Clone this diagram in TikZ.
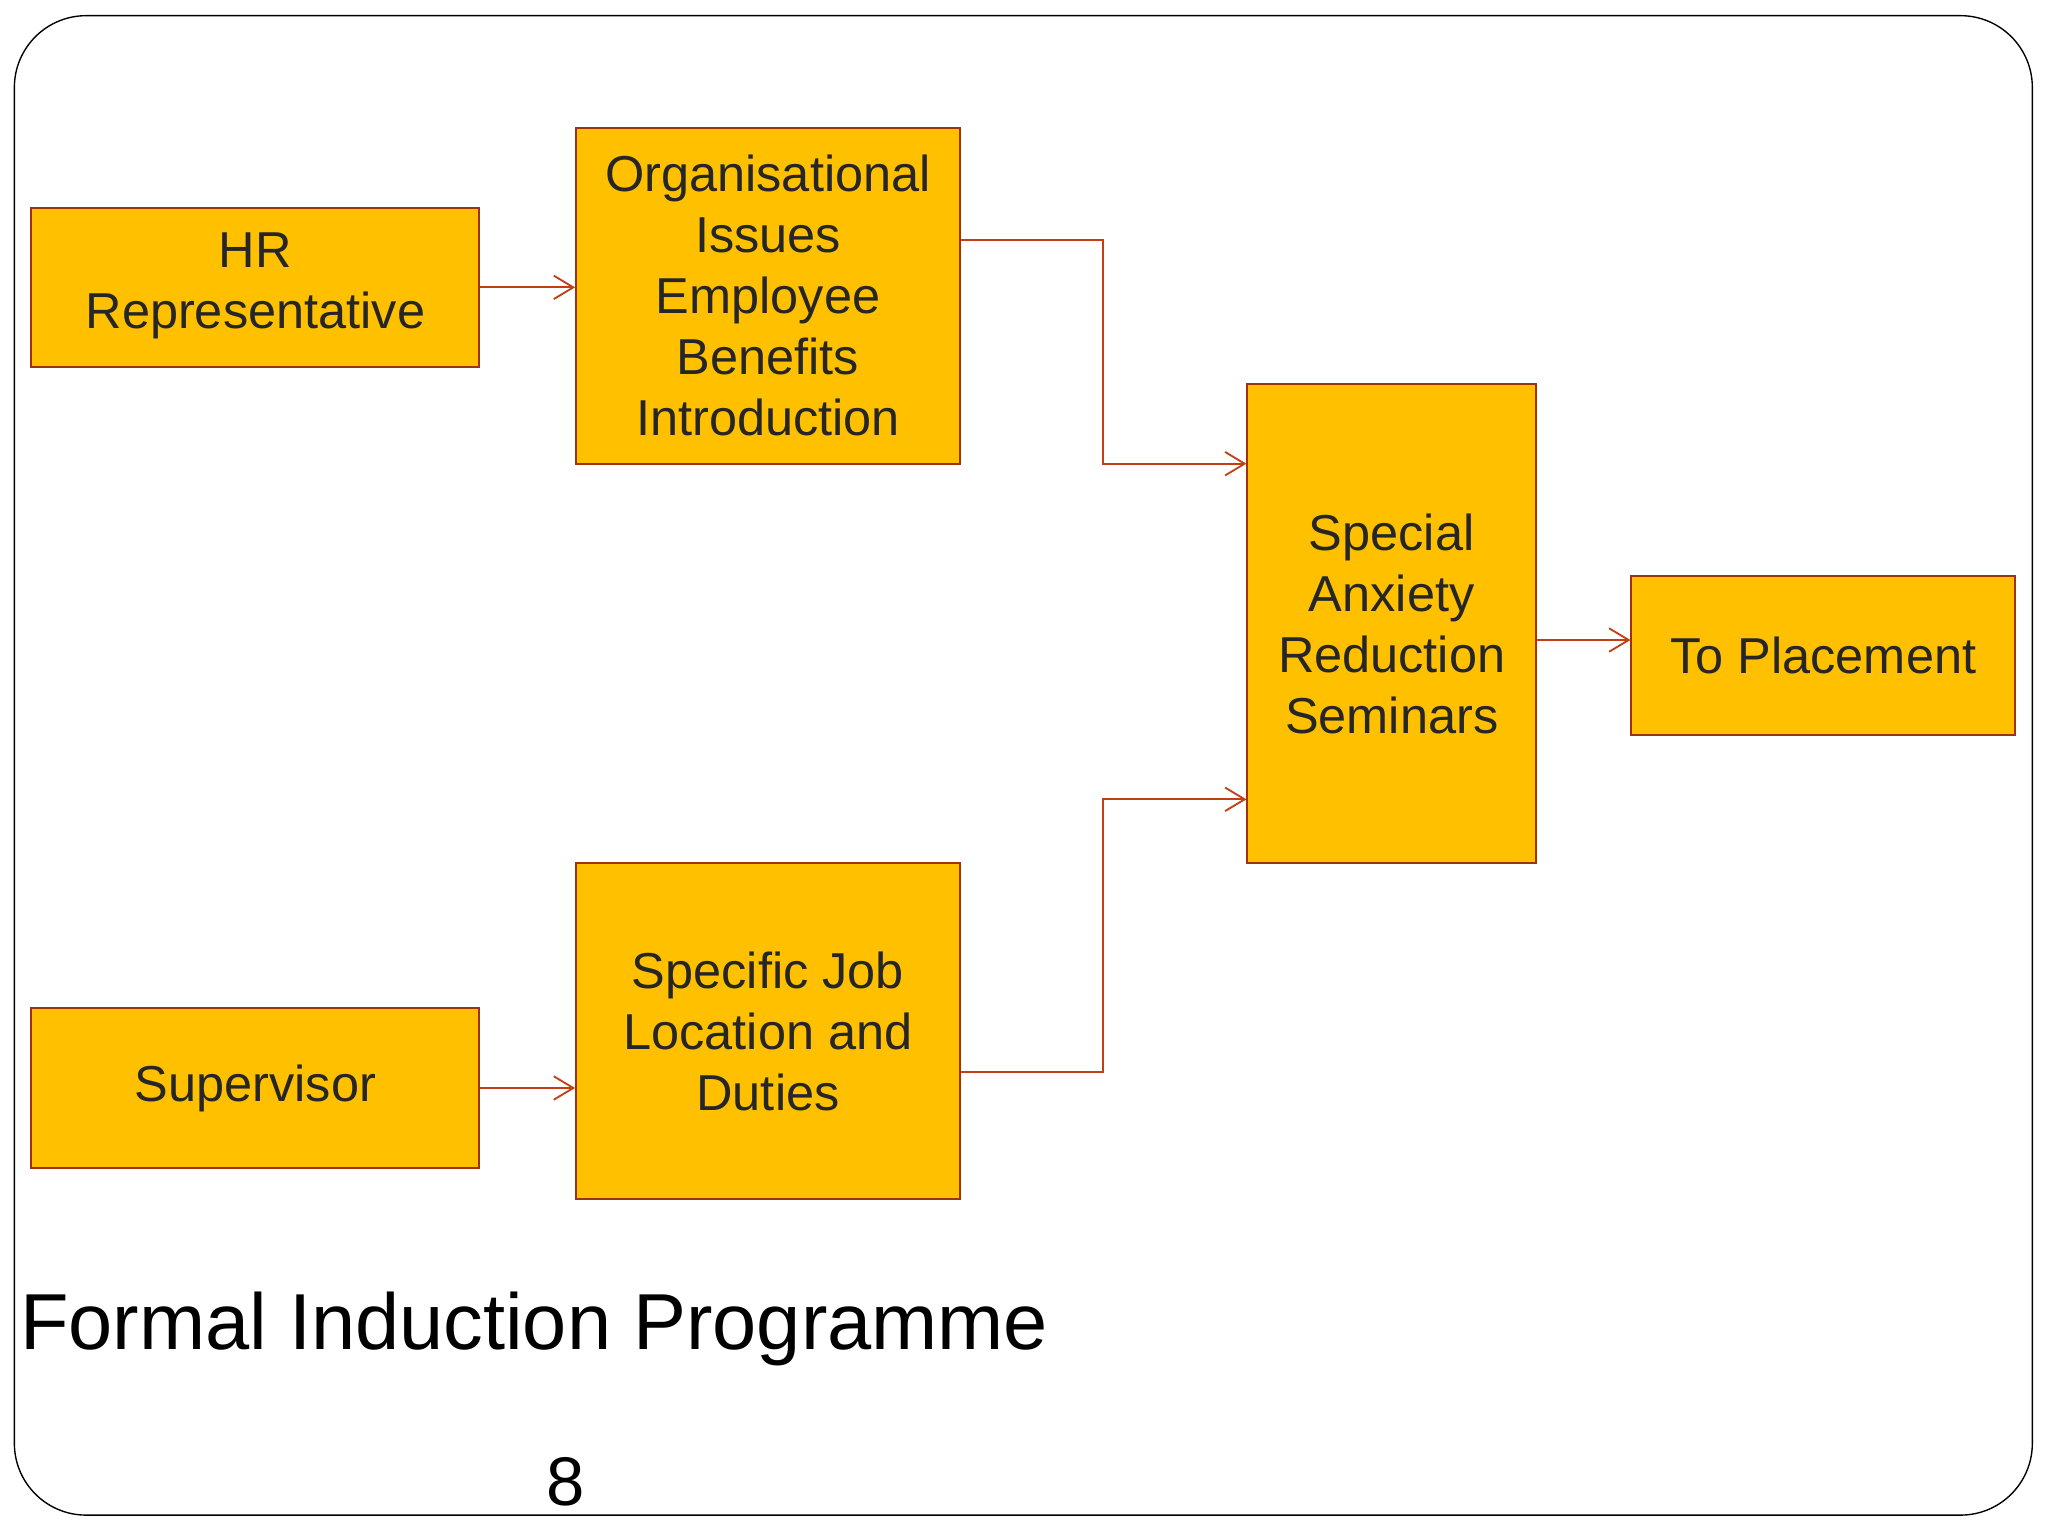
\documentclass[tikz,border=0pt]{standalone}
\usepackage{fontspec}
\setmainfont{Liberation Sans}
\usepackage{xcolor}
\usepackage{tikz}
\usetikzlibrary{calc,arrows.meta}

\definecolor{boxfill}{RGB}{255,192,0}
\definecolor{boxline}{RGB}{160,50,10}
\definecolor{flowline}{RGB}{192,64,20}

\tikzset{
	stage/.style={draw=boxline, fill=boxfill, line width=0.8pt, align=center, text=black!85,
		font=\fontsize{22}{26.6}\selectfont, inner sep=0pt},
	flow/.style={draw=flowline, line width=0.8pt, -{Straight Barb[length=0.3cm,width=0.36cm]}}
}

\begin{document}
\begin{tikzpicture}[x=0.02cm, y=-0.02cm]
			\useasboundingbox (0,0) rectangle (1568,1176);
			\draw[line width=0.6pt, rounded corners=1.1cm] (11,12) rectangle (1556,1160);

			\node[stage, minimum width=6.86cm, minimum height=2.44cm, text depth=0.2cm] (hr) at (195.5,220)
				{HR\\Representative};
			\node[stage, minimum width=5.88cm, minimum height=5.14cm] (org) at (588,226.5)
				{Organisational\\Issues\\Employee\\Benefits\\Introduction};
			\node[stage, minimum width=6.86cm, minimum height=2.44cm] (sup) at (195.5,833) {Supervisor};
			\node[stage, minimum width=5.88cm, minimum height=5.14cm] (job) at (588,789.5)
				{Specific Job\\Location and\\Duties};
			\node[stage, minimum width=4.42cm, minimum height=7.34cm] (seminar) at (1065.5,477.5)
				{Special\\Anxiety\\Reduction\\Seminars};
			\node[stage, minimum width=5.88cm, minimum height=2.44cm] (placement) at (1396,502) {To Placement};

			\draw[flow] (hr.east) -- (hr.east -| org.west);
			\draw[flow] (sup.east) -- (sup.east -| job.west);
			\draw[flow] ([yshift=0.85cm]org.east) -| ([xshift=-2.2cm,yshift=2.45cm]seminar.west)
				-- ([yshift=2.45cm]seminar.west);
			\draw[flow] ([yshift=-0.63cm]job.east) -| ([xshift=-2.2cm,yshift=-2.69cm]seminar.west)
				-- ([yshift=-2.69cm]seminar.west);
			\draw[flow] ([yshift=-0.25cm]seminar.east) -- ([yshift=0.24cm]placement.west);

			\node[anchor=base west, inner sep=0pt, font=\fontsize{34.6}{40}\selectfont] (title) at (15,1033)
				{Formal Induction Programme};
			\node[anchor=base, inner sep=0pt, font=\fontsize{30}{36}\selectfont] (page) at (433,1153) {8};
		\end{tikzpicture}
\end{document}
